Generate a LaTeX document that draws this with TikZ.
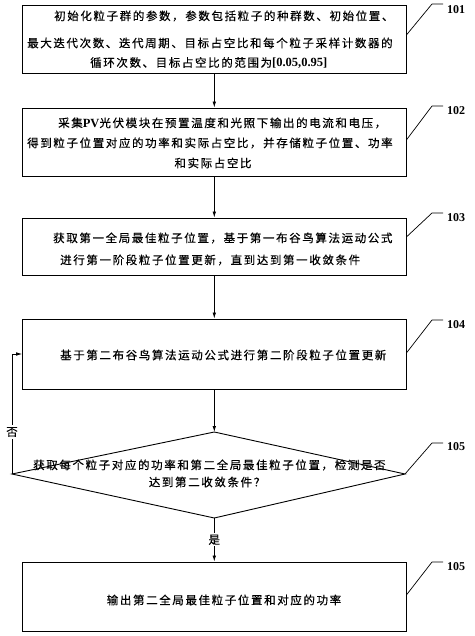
\documentclass[tikz,border=0pt]{standalone}
\usepackage{fontspec}
\setmainfont{Liberation Serif}
\newfontfamily\cjk[LetterSpace=14,FakeBold=0.4]{Noto Sans CJK SC}
\usetikzlibrary{arrows.meta}
\newcommand{\lat}[1]{{\rmfamily\bfseries\fontsize{12.5}{14}\selectfont #1}}
\begin{document}
\begin{tikzpicture}[x=1pt,y=-1pt,
  box/.style={draw, line width=0.9pt, inner sep=0pt, minimum width=383.3pt},
  txt/.style={inner sep=0pt, anchor=west, font=\cjk\fontsize{11.5}{14}\selectfont},
  ctxt/.style={inner sep=0pt, font=\cjk\fontsize{11.5}{14}\selectfont},
  arr/.style={line width=0.8pt, -{Latex[length=6pt,width=3.6pt]}},
  lead/.style={line width=0.7pt},
  num/.style={inner sep=0pt, anchor=west, font=\rmfamily\bfseries\fontsize{12}{14}\selectfont}]
\useasboundingbox (0,0) rectangle (474,636);
% boxes
\node[box, minimum height=68.3pt] (b1) at (214.3,39.8) {};
\node[box, minimum height=68pt] (b2) at (214.3,142) {};
\node[box, minimum height=57pt] (b3) at (214.3,246.5) {};
\node[box, minimum height=70pt] (b4) at (214.3,354) {};
\node[box, minimum height=69pt] (b5) at (214.3,596.5) {};
% diamond
\coordinate (dT) at (214.3,432);
\coordinate (dR) at (405,474);
\coordinate (dB) at (214.3,518);
\coordinate (dL) at (12,474);
\draw[line width=0.9pt] (dT) -- (dR) -- (dB) -- (dL) -- cycle;
% texts
\node[txt] (t1a) at (54,16) {初始化粒子群的参数，参数包括粒子的种群数、初始位置、};
\node[txt] (t1b) at (27,43) {最大迭代次数、迭代周期、目标占空比和每个粒子采样计数器的};
\node[txt] (t1c) at (90,63) {循环次数、目标占空比的范围为\lat{[0.05,0.95]}};
\node[txt] (t2a) at (58,123) {采集\lat{PV}光伏模块在预置温度和光照下输出的电流和电压，};
\node[txt] (t2b) at (27,143) {得到粒子位置对应的功率和实际占空比，并存储粒子位置、功率};
\node[ctxt] (t2c) at (213,163) {和实际占空比};
\node[txt] (t3a) at (53,238) {获取第一全局最佳粒子位置，基于第一布谷鸟算法运动公式};
\node[txt] (t3b) at (60,260) {进行第一阶段粒子位置更新，直到达到第一收敛条件};
\node[txt] (t4) at (60,355) {基于第二布谷鸟算法运动公式进行第二阶段粒子位置更新};
\node[txt] (tda) at (33,465) {获取每个粒子对应的功率和第二全局最佳粒子位置，检测是否};
\node[ctxt] (tdb) at (207,482) {达到第二收敛条件？};
\node[ctxt] (t5) at (224,600) {输出第二全局最佳粒子位置和对应的功率};
% arrows
\draw[arr] (b1.south) -- (b2.north);
\draw[arr] (b2.south) -- (b3.north);
\draw[arr] (b3.south) -- (b4.north);
\draw[arr] (b4.south) -- (dT);
\draw[arr] (dB) -- node[ctxt, fill=white, inner sep=1.5pt, pos=0.5] (yes) {是} (b5.north);
\draw[arr] (dL) -- node[ctxt, fill=white, inner sep=2pt, pos=0.35] (no) {否} (dL |- b4.west) -- (b4.west);
% leaders
\draw[lead] (b1.east |- 0,35) -- (432,4) -- (443,4);
\node[num] (n1) at (447,10) {101};
\draw[lead] (b2.east |- 0,140) -- (432,106) -- (443,106);
\node[num] (n2) at (447,111) {102};
\draw[lead] (b3.east |- 0,237) -- (432,213) -- (443,213);
\node[num] (n3) at (447,218) {103};
\draw[lead] (b4.east |- 0,353) -- (432,320) -- (443,320);
\node[num] (n4) at (447,325) {104};
\draw[lead] (dR) -- (432,443) -- (443,443);
\node[num] (nd) at (447,447) {105};
\draw[lead] (b5.east |- 0,595) -- (432,562) -- (443,562);
\node[num] (n5) at (447,567) {105};
\end{tikzpicture}
\end{document}
